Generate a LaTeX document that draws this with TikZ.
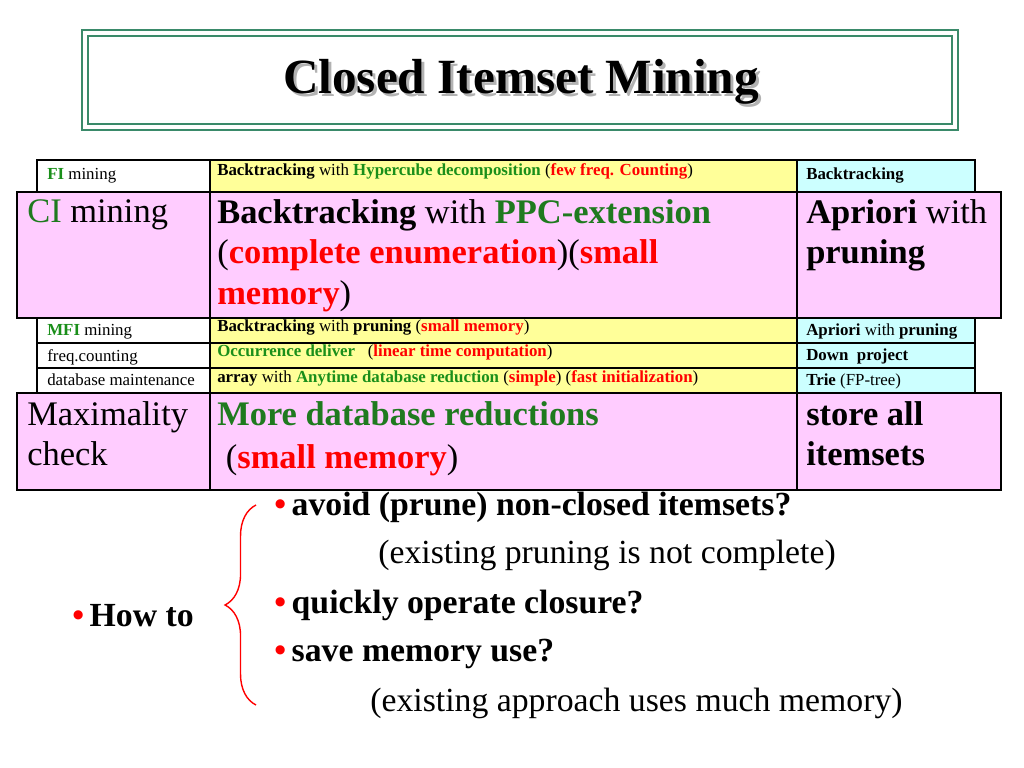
\documentclass[tikz,border=0pt]{standalone}
\usepackage{fontspec}
\setmainfont{Liberation Serif}
\usetikzlibrary{positioning,decorations.pathreplacing}
\definecolor{frame}{HTML}{3A8A6A}
\definecolor{fiyel}{HTML}{FFFF99}
\definecolor{ficyan}{HTML}{CCFFFF}
\definecolor{cipink}{HTML}{FFCCFF}
\definecolor{grn}{HTML}{1A8F1A}
\definecolor{dgrn}{HTML}{1F7A1F}
\definecolor{rd}{HTML}{FF0000}
\newcommand{\g}[1]{\textcolor{grn}{#1}}
\newcommand{\dg}[1]{\textcolor{dgrn}{#1}}
\newcommand{\rr}[1]{\textcolor{rd}{#1}}

\begin{document}
\begin{tikzpicture}[x=0.025cm,y=-0.025cm,
    small/.style={anchor=north west, inner sep=0pt, font=\fontsize{12}{14}\selectfont},
    big/.style={anchor=north west, inner sep=0pt, align=left, font=\fontsize{24.5}{29}\selectfont},
    cellline/.style={draw=black, line width=1.2pt},
    bigline/.style={draw=black, line width=2pt},
    item/.style={anchor=west, inner sep=0pt, font=\fontsize{24}{28}\selectfont\bfseries},
    note/.style={anchor=west, inner sep=0pt, font=\fontsize{24}{28}\selectfont}
]
\useasboundingbox (0,0) rectangle (1024,768);

% Title
\draw[frame, line width=2pt, fill=white] (82,30) rectangle (958,130);
\draw[frame, line width=1pt] (88,36) rectangle (952,124);
\node[text=gray!60, font=\fontsize{35}{40}\selectfont\bfseries] at (524,85) {Closed Itemset Mining};
\node[font=\fontsize{35}{40}\selectfont\bfseries] (title) at (521,82) {Closed Itemset Mining};

% Small rows
\foreach \ya/\yb in {160/192, 318/343, 343/368, 368/393} {
    \fill[white] (37,\ya) rectangle (210,\yb);
    \fill[fiyel] (210,\ya) rectangle (797,\yb);
    \fill[ficyan] (797,\ya) rectangle (975,\yb);
    \draw[cellline] (37,\ya) rectangle (975,\yb);
    \draw[cellline] (210,\ya) -- (210,\yb) (797,\ya) -- (797,\yb);
}
\node[small] (fi) at (47,168) {\g{\textbf{FI}} mining};
\node[small] (fimid) at (217,163) {\textbf{Backtracking} with \g{\textbf{Hypercube decomposition}} (\rr{\textbf{few freq. Counting}})};
\node[small] (firgt) at (806,168) {\textbf{Backtracking}};
\node[small] (mfi) at (47,324) {\g{\textbf{MFI}} mining};
\node[small] (mfimid) at (217,320) {\textbf{Backtracking} with \textbf{pruning} (\rr{\textbf{small memory}})};
\node[small] (mfirgt) at (806,324) {\textbf{Apriori} with \textbf{pruning}};
\node[small] (freq) at (47,349) {freq.counting};
\node[small] (freqmid) at (217,345) {\g{\textbf{Occurrence deliver}}\ \ \ (\rr{\textbf{linear time computation}})};
\node[small] (freqrgt) at (806,349) {\textbf{Down\ \ project}};
\node[small] (db) at (47,374) {database maintenance};
\node[small] (dbmid) at (217,370) {\textbf{array} with \g{\textbf{Anytime database reduction}} (\rr{\textbf{simple}}) (\rr{\textbf{fast initialization}})};
\node[small] (dbrgt) at (806,374) {\textbf{Trie} (FP-tree)};

% Big rows
\foreach \ya/\yb in {192/318, 393/490} {
    \fill[cipink] (17,\ya) rectangle (1001,\yb);
    \draw[bigline] (17,\ya) rectangle (1001,\yb);
    \draw[cellline] (210,\ya) -- (210,\yb) (797,\ya) -- (797,\yb);
}
\node[big] (ci) at (27,199) {\dg{CI} mining};
\node[big] (cimid) at (217,199) {\textbf{Backtracking} with \dg{\textbf{PPC-extension}}\\(\rr{\textbf{complete enumeration}})(\rr{\textbf{small}}\\\rr{\textbf{memory}})};
\node[big] (cirgt) at (806,199) {\textbf{Apriori} with\\\textbf{pruning}};
\node[big] (max) at (27,401) {Maximality\\check};
\node[big] (maxmid) at (217,401) {\dg{\textbf{More database reductions}}\\[2pt]\ (\rr{\textbf{small memory}})};
\node[big] (maxrgt) at (806,401) {\textbf{store all}\\\textbf{itemsets}};

% How to
\node[item] (howto) at (72,616) {\rr{\textbullet}\,How to};
\draw[rd, line width=1pt, decorate, decoration={brace, amplitude=22pt}] (256,705) -- (256,505);
\node[item] (q1) at (274,507) {\rr{\textbullet}\,avoid (prune) non-closed itemsets?};
\node[note] (n1) at (378,555) {(existing pruning is not complete)};
\node[item] (q2) at (274,605) {\rr{\textbullet}\,quickly operate closure?};
\node[item] (q3) at (274,654) {\rr{\textbullet}\,save memory use?};
\node[note] (n3) at (370,703) {(existing approach uses much memory)};
\end{tikzpicture}
\end{document}
